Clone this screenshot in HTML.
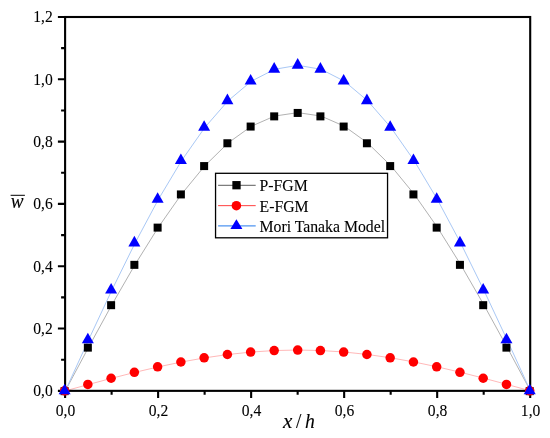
<!DOCTYPE html>
<html><head><meta charset="utf-8"><title>chart</title>
<style>
html,body{margin:0;padding:0;background:#fff;}
body{width:550px;height:438px;overflow:hidden;}
svg{display:block;}
text{font-family:"Liberation Serif","Times New Roman",serif;fill:#000;stroke:#000;stroke-width:0.1px;}
.tk{font-size:16.9px;}
.lg{font-size:16.3px;}
.ax{font-size:20.3px;font-style:italic;}
.n{font-style:normal;}
</style></head><body>
<svg width="550" height="438" viewBox="0 0 550 438">
<rect x="0" y="0" width="550" height="438" fill="#fff"/>

<polyline points="65.30,390.85 88.55,347.33 111.81,304.88 135.06,264.55 158.32,227.32 181.57,194.13 204.83,165.78 228.09,142.97 251.34,126.26 274.59,116.07 297.85,112.64 321.11,116.07 344.36,126.26 367.61,142.97 390.87,165.78 414.13,194.13 437.38,227.32 460.64,264.55 483.89,304.88 507.15,347.33 530.40,390.85" fill="none" stroke="#a8a8a8" stroke-width="0.9"/>
<polyline points="65.30,390.85 88.55,384.47 111.81,378.24 135.06,372.32 158.32,366.86 181.57,361.99 204.83,357.83 228.09,354.49 251.34,352.04 274.59,350.54 297.85,350.04 321.11,350.54 344.36,352.04 367.61,354.49 390.87,357.83 414.13,361.99 437.38,366.86 460.64,372.32 483.89,378.24 507.15,384.47 530.40,390.85" fill="none" stroke="#ffb0b0" stroke-width="0.9"/>
<polyline points="65.30,390.85 88.55,339.92 111.81,290.25 135.06,243.05 158.32,199.49 181.57,160.64 204.83,127.47 228.09,100.77 251.34,81.22 274.59,69.30 297.85,65.29 321.11,69.30 344.36,81.22 367.61,100.77 390.87,127.47 414.13,160.64 437.38,199.49 460.64,243.05 483.89,290.25 507.15,339.92 530.40,390.85" fill="none" stroke="#a9c8f5" stroke-width="1.0"/>
<rect x="65.1" y="17.0" width="465.1" height="373.85" fill="none" stroke="#000" stroke-width="2.1"/>
<path d="M65.10,390.85v7.2 M111.61,390.85v3.8 M158.12,390.85v7.2 M204.63,390.85v3.8 M251.14,390.85v7.2 M297.65,390.85v3.8 M344.16,390.85v7.2 M390.67,390.85v3.8 M437.18,390.85v7.2 M483.69,390.85v3.8 M530.20,390.85v7.2 M65.1,390.85h-7.2 M65.1,359.70h-4.0 M65.1,328.54h-7.2 M65.1,297.39h-4.0 M65.1,266.23h-7.2 M65.1,235.08h-4.0 M65.1,203.92h-7.2 M65.1,172.77h-4.0 M65.1,141.62h-7.2 M65.1,110.46h-4.0 M65.1,79.31h-7.2 M65.1,48.15h-4.0 M65.1,17.00h-7.2" stroke="#000" stroke-width="2.1" fill="none"/>
<rect x="60.60" y="387.15" width="8.0" height="8.0" fill="#000"/>
<rect x="83.85" y="343.63" width="8.0" height="8.0" fill="#000"/>
<rect x="107.11" y="301.18" width="8.0" height="8.0" fill="#000"/>
<rect x="130.37" y="260.85" width="8.0" height="8.0" fill="#000"/>
<rect x="153.62" y="223.62" width="8.0" height="8.0" fill="#000"/>
<rect x="176.88" y="190.43" width="8.0" height="8.0" fill="#000"/>
<rect x="200.13" y="162.08" width="8.0" height="8.0" fill="#000"/>
<rect x="223.39" y="139.27" width="8.0" height="8.0" fill="#000"/>
<rect x="246.64" y="122.56" width="8.0" height="8.0" fill="#000"/>
<rect x="270.19" y="112.37" width="8.0" height="8.0" fill="#000"/>
<rect x="293.70" y="108.94" width="8.0" height="8.0" fill="#000"/>
<rect x="316.41" y="112.37" width="8.0" height="8.0" fill="#000"/>
<rect x="339.66" y="122.56" width="8.0" height="8.0" fill="#000"/>
<rect x="362.91" y="139.27" width="8.0" height="8.0" fill="#000"/>
<rect x="386.17" y="162.08" width="8.0" height="8.0" fill="#000"/>
<rect x="409.43" y="190.43" width="8.0" height="8.0" fill="#000"/>
<rect x="432.68" y="223.62" width="8.0" height="8.0" fill="#000"/>
<rect x="455.94" y="260.85" width="8.0" height="8.0" fill="#000"/>
<rect x="479.19" y="301.18" width="8.0" height="8.0" fill="#000"/>
<rect x="502.45" y="343.63" width="8.0" height="8.0" fill="#000"/>
<rect x="525.70" y="387.15" width="8.0" height="8.0" fill="#000"/>
<circle cx="64.60" cy="390.85" r="4.75" fill="#ff0000"/>
<circle cx="87.85" cy="384.47" r="4.75" fill="#ff0000"/>
<circle cx="111.11" cy="378.24" r="4.75" fill="#ff0000"/>
<circle cx="134.37" cy="372.32" r="4.75" fill="#ff0000"/>
<circle cx="157.62" cy="366.86" r="4.75" fill="#ff0000"/>
<circle cx="180.88" cy="361.99" r="4.75" fill="#ff0000"/>
<circle cx="204.13" cy="357.83" r="4.75" fill="#ff0000"/>
<circle cx="227.39" cy="354.49" r="4.75" fill="#ff0000"/>
<circle cx="250.64" cy="352.04" r="4.75" fill="#ff0000"/>
<circle cx="274.19" cy="350.54" r="4.75" fill="#ff0000"/>
<circle cx="297.70" cy="350.04" r="4.75" fill="#ff0000"/>
<circle cx="320.41" cy="350.54" r="4.75" fill="#ff0000"/>
<circle cx="343.66" cy="352.04" r="4.75" fill="#ff0000"/>
<circle cx="366.91" cy="354.49" r="4.75" fill="#ff0000"/>
<circle cx="390.17" cy="357.83" r="4.75" fill="#ff0000"/>
<circle cx="413.43" cy="361.99" r="4.75" fill="#ff0000"/>
<circle cx="436.68" cy="366.86" r="4.75" fill="#ff0000"/>
<circle cx="459.94" cy="372.32" r="4.75" fill="#ff0000"/>
<circle cx="483.19" cy="378.24" r="4.75" fill="#ff0000"/>
<circle cx="506.45" cy="384.47" r="4.75" fill="#ff0000"/>
<circle cx="529.70" cy="390.85" r="4.75" fill="#ff0000"/>
<polygon points="64.60,383.68 70.60,394.23 58.60,394.23" fill="#0000ff"/>
<polygon points="87.85,332.75 93.85,343.30 81.85,343.30" fill="#0000ff"/>
<polygon points="111.11,283.07 117.11,293.62 105.11,293.62" fill="#0000ff"/>
<polygon points="134.37,235.87 140.37,246.42 128.37,246.42" fill="#0000ff"/>
<polygon points="157.62,192.32 163.62,202.87 151.62,202.87" fill="#0000ff"/>
<polygon points="180.88,153.47 186.88,164.02 174.88,164.02" fill="#0000ff"/>
<polygon points="204.13,120.29 210.13,130.84 198.13,130.84" fill="#0000ff"/>
<polygon points="227.39,93.60 233.39,104.15 221.39,104.15" fill="#0000ff"/>
<polygon points="250.64,74.05 256.64,84.60 244.64,84.60" fill="#0000ff"/>
<polygon points="274.19,62.12 280.19,72.67 268.19,72.67" fill="#0000ff"/>
<polygon points="297.70,58.11 303.70,68.66 291.70,68.66" fill="#0000ff"/>
<polygon points="320.41,62.12 326.41,72.67 314.41,72.67" fill="#0000ff"/>
<polygon points="343.66,74.05 349.66,84.60 337.66,84.60" fill="#0000ff"/>
<polygon points="366.91,93.60 372.91,104.15 360.91,104.15" fill="#0000ff"/>
<polygon points="390.17,120.29 396.17,130.84 384.17,130.84" fill="#0000ff"/>
<polygon points="413.43,153.47 419.43,164.02 407.43,164.02" fill="#0000ff"/>
<polygon points="436.68,192.32 442.68,202.87 430.68,202.87" fill="#0000ff"/>
<polygon points="459.94,235.87 465.94,246.42 453.94,246.42" fill="#0000ff"/>
<polygon points="483.19,283.07 489.19,293.62 477.19,293.62" fill="#0000ff"/>
<polygon points="506.45,332.75 512.45,343.30 500.45,343.30" fill="#0000ff"/>
<polygon points="529.70,383.68 535.70,394.23 523.70,394.23" fill="#0000ff"/>
<text class="tk" transform="translate(52.8,396.15) scale(0.923,1)" text-anchor="end">0,0</text>
<text class="tk" transform="translate(52.8,333.84) scale(0.923,1)" text-anchor="end">0,2</text>
<text class="tk" transform="translate(52.8,271.53) scale(0.923,1)" text-anchor="end">0,4</text>
<text class="tk" transform="translate(52.8,209.22) scale(0.923,1)" text-anchor="end">0,6</text>
<text class="tk" transform="translate(52.8,146.92) scale(0.923,1)" text-anchor="end">0,8</text>
<text class="tk" transform="translate(52.8,84.61) scale(0.923,1)" text-anchor="end">1,0</text>
<text class="tk" transform="translate(52.8,22.30) scale(0.923,1)" text-anchor="end">1,2</text>
<text class="tk" transform="translate(65.50,415.55) scale(0.923,1)" text-anchor="middle">0,0</text>
<text class="tk" transform="translate(158.52,415.55) scale(0.923,1)" text-anchor="middle">0,2</text>
<text class="tk" transform="translate(251.54,415.55) scale(0.923,1)" text-anchor="middle">0,4</text>
<text class="tk" transform="translate(344.56,415.55) scale(0.923,1)" text-anchor="middle">0,6</text>
<text class="tk" transform="translate(437.58,415.55) scale(0.923,1)" text-anchor="middle">0,8</text>
<text class="tk" transform="translate(530.60,415.55) scale(0.923,1)" text-anchor="middle">1,0</text>
<text class="ax" transform="translate(283.1,427.6) scale(1.04,1)">x</text>
<text class="ax n" transform="translate(295.9,427.6) scale(0.95,1)">/</text>
<text class="ax" transform="translate(304.9,427.6) scale(0.97,1)">h</text>
<text class="ax" transform="translate(17.2,208.4) scale(0.945,1)" text-anchor="middle">w</text>
<line x1="10.6" y1="195.3" x2="24.9" y2="195.3" stroke="#000" stroke-width="1"/>
<rect x="215.55" y="173.3" width="172.0" height="64.5" fill="#fff" stroke="#000" stroke-width="1.3"/>
<line x1="218.1" x2="255.7" y1="185.3" y2="185.3" stroke="#333" stroke-width="0.8"/>
<line x1="218.1" x2="255.7" y1="205.65" y2="205.65" stroke="#ff2a2a" stroke-width="0.9"/>
<line x1="218.1" x2="255.7" y1="225.85" y2="225.85" stroke="#4f94f0" stroke-width="1.25"/>
<rect x="232.35" y="181.05" width="8.3" height="8.3" fill="#000"/>
<circle cx="236.40" cy="205.65" r="4.75" fill="#ff0000"/>
<polygon points="236.40,219.29 242.40,229.09 230.40,229.09" fill="#0000ff"/>
<text class="lg" transform="translate(259.5,191.15) scale(0.968,1)">P-FGM</text>
<text class="lg" transform="translate(259.5,211.50) scale(0.968,1)">E-FGM</text>
<text class="lg" transform="translate(259.5,231.70) scale(0.968,1)">Mori Tanaka Model</text>
</svg></body></html>
